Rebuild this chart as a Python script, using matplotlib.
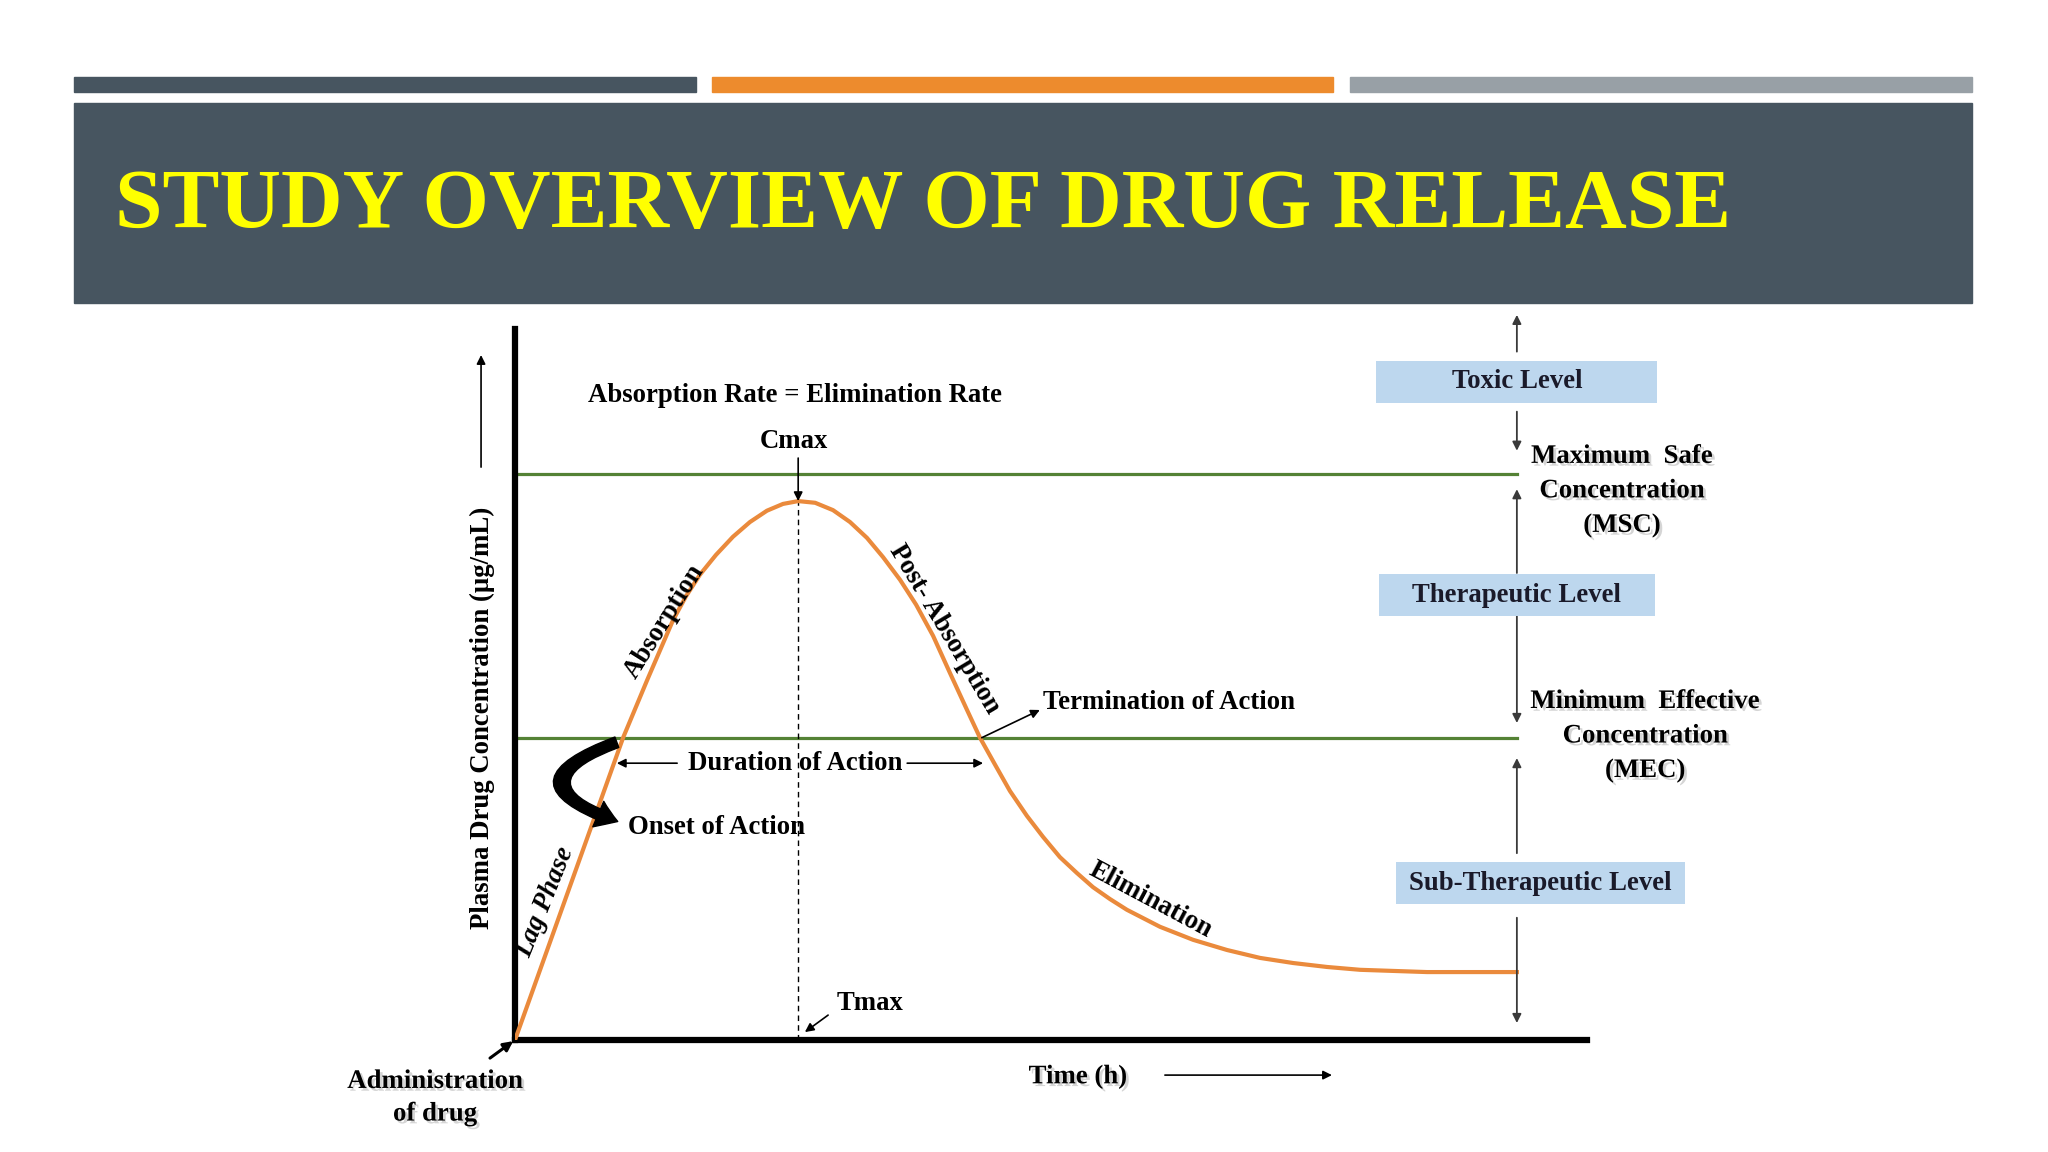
import matplotlib.pyplot as plt
import matplotlib.patheffects as pe
from matplotlib.patches import Rectangle, FancyArrowPatch

# concentration-time curve
time_h = [0.00, 2.42, 2.69, 2.96, 3.25, 3.54, 3.83, 4.14, 4.50, 4.88, 5.26, 5.64, 6.00, 6.34,
          6.72, 7.12, 7.50, 7.88, 8.24, 8.62, 8.98, 9.36, 9.74, 10.12, 10.41, 10.75, 11.08,
          11.46, 11.82, 12.20, 12.58, 12.94, 13.32, 13.70, 14.44, 15.18, 15.94, 16.68, 17.42,
          18.18, 18.92, 20.42, 22.43]
conc = [0.00, 5.34, 5.85, 6.36, 6.89, 7.42, 7.84, 8.22, 8.57, 8.89, 9.15, 9.35, 9.47, 9.52,
        9.49, 9.36, 9.15, 8.87, 8.53, 8.13, 7.69, 7.14, 6.48, 5.83, 5.34, 4.86, 4.40,
        3.96, 3.59, 3.23, 2.95, 2.70, 2.49, 2.30, 2.00, 1.77, 1.59, 1.45, 1.36,
        1.29, 1.24, 1.20, 1.20]

msc = 10.0
mec = 5.34
onset_t = 2.42
termination_t = 10.41

level_names = ['Toxic Level', 'Therapeutic Level', 'Sub-Therapeutic Level']
level_y = [11.63, 7.86, 2.77]
level_box_x = [22.43, 22.43, 22.95]
level_box_w = [6.29, 6.18, 6.47]
level_arrows = [(12.16, 12.81), (11.10, 10.41), (8.25, 9.73), (7.49, 5.60), (3.30, 4.98), (2.16, 0.30)]

title = 'STUDY OVERVIEW OF DRUG RELEASE'

plt.rcParams['font.family'] = ['Liberation Serif', 'DejaVu Serif']
plt.rcParams['font.weight'] = 'bold'

fig = plt.figure(figsize=(20.48, 11.52), dpi=100)
fig.patch.set_facecolor('white')

# slide header
deco = fig.add_axes([0, 0, 1, 1])
deco.set_xlim(0, 2048)
deco.set_ylim(1152, 0)
deco.axis('off')
deco.add_patch(Rectangle((74, 77), 622, 15, color='#475560'))
deco.add_patch(Rectangle((712, 77), 621, 15, color='#ed8b2d'))
deco.add_patch(Rectangle((1350, 77), 622, 15, color='#98a0a6'))
deco.add_patch(Rectangle((74, 103), 1898, 200, color='#475560'))
deco.text(115, 228, title, color='#ffff00', fontsize=61.5, fontweight='bold', va='baseline', ha='left')

# chart
ax = fig.add_axes([515 / 2048, 112 / 1152, 1072 / 2048, 711 / 1152])
ax.patch.set_alpha(0)
ax.set_xlim(0, 24)
ax.set_ylim(0, 12.56)
ax.set_xticks([])
ax.set_yticks([])
for s in ['top', 'right']:
    ax.spines[s].set_visible(False)
for s in ['left', 'bottom']:
    ax.spines[s].set_linewidth(4.5)
    ax.spines[s].set_color('black')

end_t = time_h[-1]
green = '#548235'
ax.plot([0, end_t], [msc, msc], color=green, lw=2.3, zorder=2)
ax.plot([0, end_t], [mec, mec], color=green, lw=2.3, zorder=2)
ax.plot(time_h, conc, color='#ea8a3c', lw=3, solid_joinstyle='round', zorder=3)

peak = conc.index(max(conc))
tmax = time_h[peak]
cmax = conc[peak]
ax.plot([tmax, tmax], [0, cmax], color='black', lw=1, ls=(0, (4, 3)), zorder=2)

small = dict(arrowstyle='-|>', color='black', lw=1.2, mutation_scale=13, shrinkA=0, shrinkB=0)
gray = dict(arrowstyle='-|>', color='#3a3a3a', lw=1.3, mutation_scale=13, shrinkA=0, shrinkB=0)
fs = 19.3

def note(x, y, s, **kw):
    ax.text(x, y, s, fontsize=fs, fontweight='bold', clip_on=False, **kw)

note(6.27, 11.38, 'Absorption Rate = Elimination Rate', ha='center', va='center')
note(6.24, 10.57, 'Cmax', ha='center', va='center')
ax.annotate('', xy=(tmax, cmax), xytext=(tmax, 10.28), arrowprops=small)

note(6.27, 4.89, 'Duration of Action', ha='center', va='center')
ax.annotate('', xy=(onset_t - 0.14, 4.89), xytext=(3.63, 4.89), arrowprops=small)
ax.annotate('', xy=(termination_t + 0.07, 4.89), xytext=(8.78, 4.89), arrowprops=small)

note(11.82, 5.97, 'Termination of Action', ha='left', va='center')
ax.annotate('', xy=(11.75, 5.83), xytext=(termination_t + 0.04, mec), arrowprops=small)

onset = FancyArrowPatch((onset_t - 0.14, mec - 0.08), (onset_t - 0.12, 3.86),
                        connectionstyle='arc3,rad=1.4',
                        arrowstyle='simple,head_length=0.75,head_width=1.0,tail_width=0.4',
                        mutation_scale=20, color='black', shrinkA=0, shrinkB=0, zorder=4)
ax.add_patch(onset)
note(2.53, 3.76, 'Onset of Action', ha='left', va='center')

note(7.95, 0.65, 'Tmax', ha='center', va='center')
ax.annotate('', xy=(6.49, 0.14), xytext=(7.01, 0.44), arrowprops=small)

shadow = [pe.withSimplePatchShadow(offset=(2, -2), shadow_rgbFace='#888888', alpha=0.35)]
note(-1.79, -1.02, 'Administration\nof drug', ha='center', va='center', linespacing=1.4,
     path_effects=shadow)
ax.annotate('', xy=(-0.04, -0.02), xytext=(-0.56, -0.32),
            arrowprops=dict(arrowstyle='-|>', color='black', lw=2.2, mutation_scale=14,
                            shrinkA=0, shrinkB=0), annotation_clip=False)

note(12.60, -0.65, 'Time (h)', ha='center', va='center', path_effects=shadow)
ax.annotate('', xy=(18.29, -0.62), xytext=(14.55, -0.62), arrowprops=small, annotation_clip=False)

note(-0.74, 5.69, 'Plasma Drug Concentration (µg/mL)', ha='center', va='center', rotation=90)
ax.annotate('', xy=(-0.76, 12.10), xytext=(-0.76, 10.12), arrowprops=small, annotation_clip=False)

# phase labels along the curve
note(0.69, 2.44, 'Lag Phase', ha='center', va='center', rotation=68, rotation_mode='anchor',
     style='italic')
note(3.34, 7.39, 'Absorption', ha='center', va='center', rotation=58, rotation_mode='anchor')
note(9.62, 7.25, 'Post- Absorption', ha='center', va='center', rotation=-59, rotation_mode='anchor')
note(14.22, 2.47, 'Elimination', ha='center', va='center', rotation=-28, rotation_mode='anchor')

# therapeutic window column
for a, b in level_arrows:
    ax.annotate('', xy=(end_t, b), xytext=(end_t, a), arrowprops=gray, annotation_clip=False)
for name, y, cx, w in zip(level_names, level_y, level_box_x, level_box_w):
    ax.add_patch(Rectangle((cx - w / 2, y - 0.37), w, 0.74, facecolor='#bdd7ee',
                           edgecolor='none', clip_on=False, zorder=3))
    note(cx, y, name, ha='center', va='center', color='#1a1a2a', zorder=4)

note(24.78, 9.70, 'Maximum  Safe\nConcentration\n(MSC)', ha='center', va='center',
     linespacing=1.5, path_effects=shadow)
note(25.30, 5.37, 'Minimum  Effective\nConcentration\n(MEC)', ha='center', va='center',
     linespacing=1.5, path_effects=shadow)

fig.savefig('out.png', dpi=100)
